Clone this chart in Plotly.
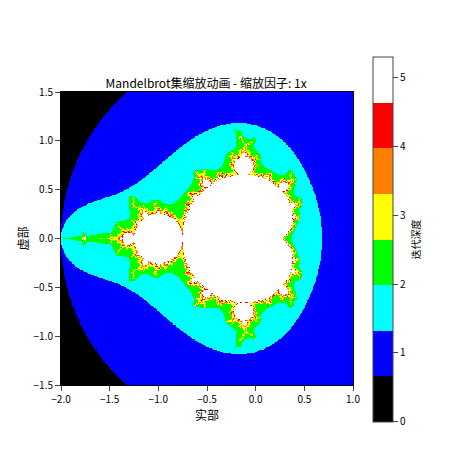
import numpy as np
import plotly.graph_objects as go

# view window and iteration settings
x_range = [-2.0, 1.0]
y_range = [-1.5, 1.5]
grid_size = 400
max_iter = 200
zoom_factor = 1

band_colors = ["#000000", "#0000ff", "#00ffff", "#00ff00",
               "#ffff00", "#ff8000", "#ff0000", "#ffffff"]
cbar_ticks = [0, 1, 2, 3, 4, 5]

xs = np.linspace(x_range[0], x_range[1], grid_size)
ys = np.linspace(y_range[0], y_range[1], grid_size)
c = xs[None, :] + 1j * ys[:, None]
z = np.zeros_like(c)
counts = np.full(c.shape, max_iter, dtype=float)
alive = np.ones(c.shape, dtype=bool)
for n in range(1, max_iter + 1):
    z[alive] = z[alive] ** 2 + c[alive]
    esc = alive & (np.abs(z) > 2)
    counts[esc] = n
    alive &= ~esc
depth = np.log(counts)

zmax = np.log(max_iter)
scale = []
k = len(band_colors)
for i, col in enumerate(band_colors):
    scale.append([i / k, col])
    scale.append([(i + 1) / k, col])

fig = go.Figure(go.Heatmap(
    x=xs, y=ys, z=depth, zmin=0, zmax=zmax, colorscale=scale,
    colorbar=dict(title=dict(text="迭代深度", side="right", font=dict(size=10)),
                  tickvals=cbar_ticks, thickness=20, thicknessmode="pixels",
                  len=1.246, lenmode="fraction", y=0.497, yanchor="middle",
                  x=1.068, xanchor="left", xpad=0, ypad=0,
                  outlinewidth=1, ticks="outside", tickfont=dict(size=10)),
))
fig.update_layout(
    width=474, height=474,
    margin=dict(l=53, r=129, t=84, b=97, autoexpand=False),
    paper_bgcolor="white", plot_bgcolor="white",
    font=dict(family="Noto Sans CJK SC", color="black", size=10),
    title=dict(text=f"Mandelbrot集缩放动画 - 缩放因子: {zoom_factor}x",
               x=0.418, y=0.84, xanchor="center", yanchor="middle",
               font=dict(size=12)),
)
fig.update_xaxes(title=dict(text="实部", standoff=2), range=x_range, dtick=0.5,
                 tickformat=".1f", ticks="outside", showline=True,
                 linecolor="black", mirror=True, showgrid=False, zeroline=False)
fig.update_yaxes(title=dict(text="虚部", standoff=2), range=y_range, dtick=0.5,
                 tickformat=".1f", ticks="outside", showline=True,
                 linecolor="black", mirror=True, showgrid=False, zeroline=False)
fig.write_html("out.html")
